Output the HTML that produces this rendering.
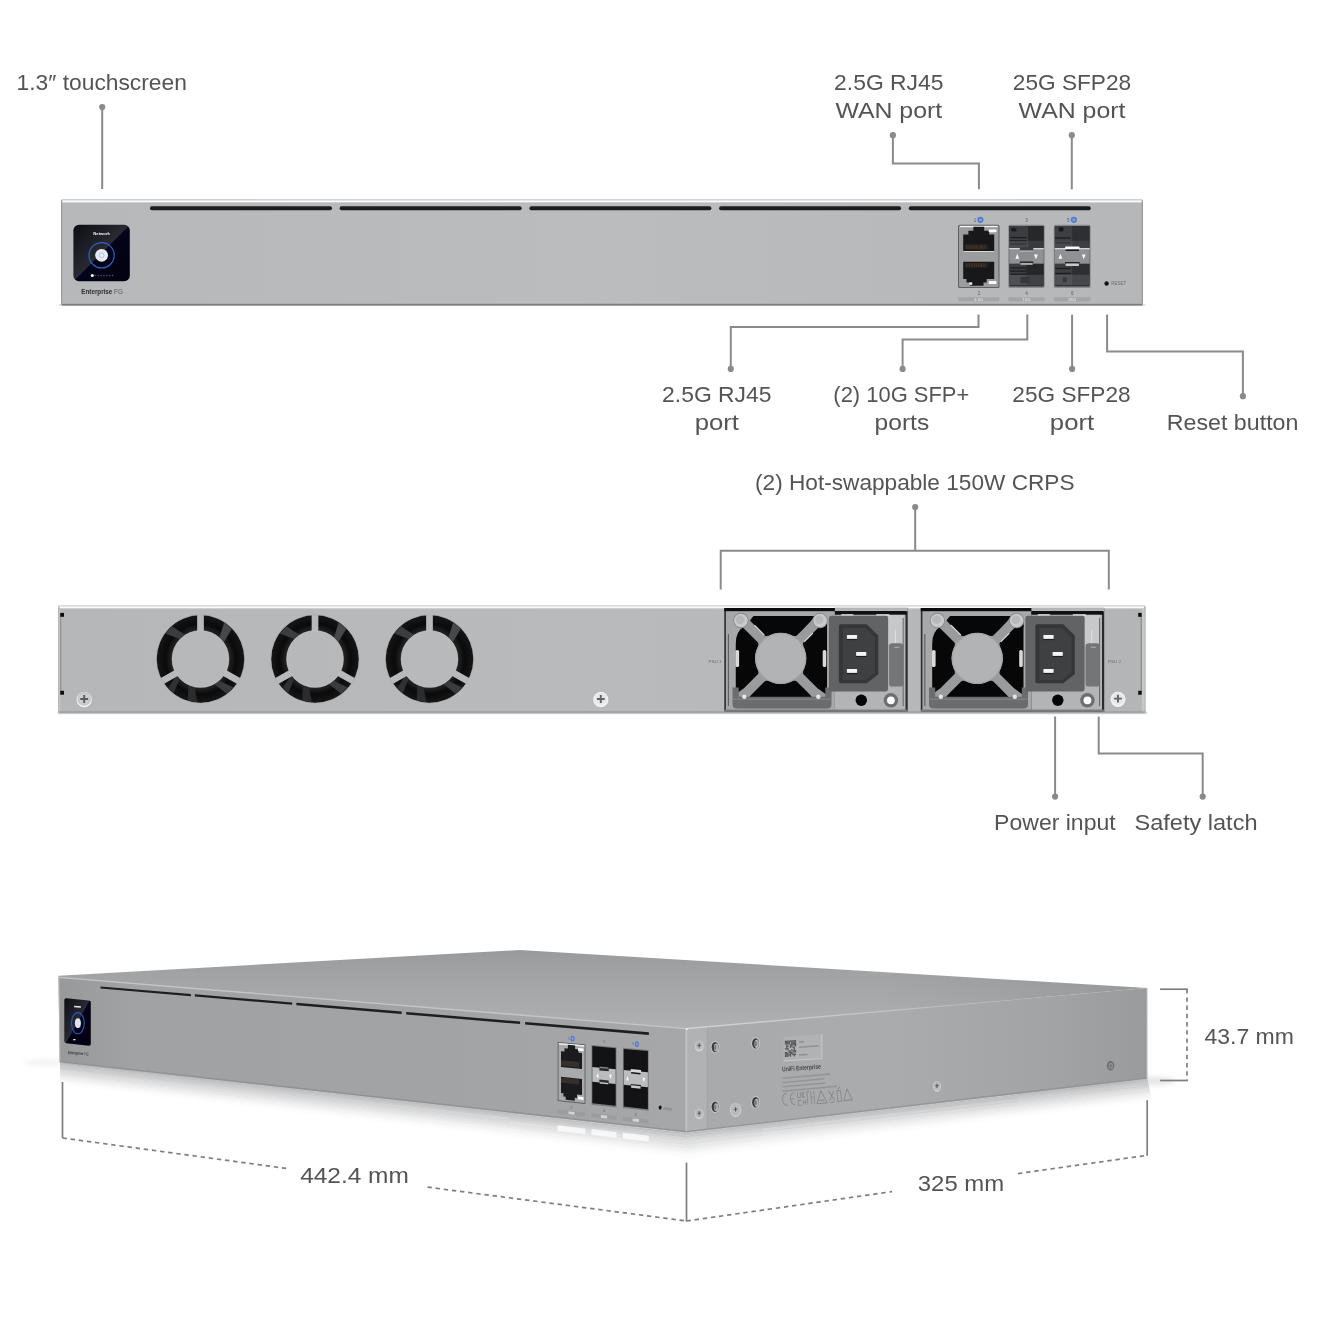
<!DOCTYPE html>
<html><head><meta charset="utf-8"><title>Enterprise FG</title>
<style>html,body{margin:0;padding:0;background:#fff;}body{width:1318px;height:1318px;overflow:hidden;font-family:"Liberation Sans",sans-serif;}svg{display:block;}</style>
</head><body>
<svg width="1318" height="1318" viewBox="0 0 1318 1318" opacity="0.999" font-family="Liberation Sans, sans-serif">
<defs>
  <linearGradient id="faceA" x1="0" y1="0" x2="1" y2="0">
    <stop offset="0" stop-color="#b7b8ba"/><stop offset="0.5" stop-color="#bbbcbe"/><stop offset="1" stop-color="#b6b7b9"/>
  </linearGradient>
  <linearGradient id="faceB" x1="0" y1="0" x2="1" y2="0">
    <stop offset="0" stop-color="#b6b7b9"/><stop offset="0.5" stop-color="#b9babc"/><stop offset="1" stop-color="#b4b5b7"/>
  </linearGradient>
  <linearGradient id="scr" x1="0" y1="0" x2="1" y2="1">
    <stop offset="0" stop-color="#0c0c14"/><stop offset="0.5" stop-color="#2a2a32"/><stop offset="0.505" stop-color="#03031a"/><stop offset="1" stop-color="#02020f"/>
  </linearGradient>
  <linearGradient id="sfp" x1="0" y1="0" x2="0" y2="1">
    <stop offset="0" stop-color="#2c2e31"/><stop offset="0.5" stop-color="#4a4c50"/><stop offset="1" stop-color="#2a2c2f"/>
  </linearGradient>
  <radialGradient id="fanG" cx="0.5" cy="0.5" r="0.5">
    <stop offset="0.62" stop-color="#2a2a2a"/><stop offset="0.8" stop-color="#0a0a0a"/><stop offset="1" stop-color="#161616"/>
  </radialGradient>
  <linearGradient id="topP" gradientUnits="userSpaceOnUse" x1="0" y1="950" x2="0" y2="1030">
    <stop offset="0" stop-color="#999a9c"/><stop offset="0.3" stop-color="#a2a3a5"/><stop offset="0.65" stop-color="#a8a9ab"/><stop offset="1" stop-color="#b0b1b3"/>
  </linearGradient>
  <linearGradient id="topP2" gradientUnits="userSpaceOnUse" x1="880" y1="0" x2="1147" y2="0">
    <stop offset="0" stop-color="#000" stop-opacity="0"/><stop offset="1" stop-color="#000" stop-opacity="0.075"/>
  </linearGradient>
  <linearGradient id="edgeCE" gradientUnits="userSpaceOnUse" x1="686" y1="0" x2="1147" y2="0">
    <stop offset="0" stop-color="#d4d5d7"/><stop offset="0.5" stop-color="#bcbdbf"/><stop offset="0.8" stop-color="#a9aaac" stop-opacity="0.3"/><stop offset="1" stop-color="#a0a1a3" stop-opacity="0"/>
  </linearGradient>
  <linearGradient id="frontP" x1="0" y1="0" x2="1" y2="0">
    <stop offset="0" stop-color="#98999b"/><stop offset="0.12" stop-color="#a1a2a4"/><stop offset="0.6" stop-color="#a2a3a5"/><stop offset="1" stop-color="#a6a7a9"/>
  </linearGradient>
  <linearGradient id="sideP" x1="0" y1="0" x2="1" y2="0">
    <stop offset="0" stop-color="#a9aaac"/><stop offset="0.45" stop-color="#aaabad"/><stop offset="0.8" stop-color="#a2a3a5"/><stop offset="1" stop-color="#9a9b9d"/>
  </linearGradient>
  <linearGradient id="refl" x1="0" y1="0" x2="0" y2="1">
    <stop offset="0" stop-color="#9c9d9f" stop-opacity="0.55"/><stop offset="1" stop-color="#ffffff" stop-opacity="0"/>
  </linearGradient>
  <filter id="b1" x="-20%" y="-20%" width="140%" height="140%"><feGaussianBlur stdDeviation="0.6"/></filter>
  <filter id="b2" x="-20%" y="-50%" width="140%" height="200%"><feGaussianBlur stdDeviation="2.5"/></filter>
</defs>

<g id="front">
<rect x="59.0" y="304.09999999999997" width="1086.5" height="2.0" fill="#e2e2e2" filter="url(#b1)"/>
<rect x="61.0" y="199.3" width="1082.0" height="106.09999999999997" rx="1.6" fill="url(#faceA)"/>
<rect x="61.8" y="199.3" width="1080.4" height="1.4" rx="0.7" fill="#d4d5d6"/>
<rect x="62.2" y="200.5" width="1079.6" height="1.7" fill="#fbfbfb"/>
<rect x="62.2" y="202.20000000000002" width="1079.6" height="0.8" fill="#d2d3d4"/>
<rect x="61.0" y="200.3" width="1.2" height="104.09999999999997" fill="#9a9b9d"/>
<rect x="1141.8" y="200.3" width="1.2" height="104.09999999999997" fill="#97989a"/>
<rect x="61.5" y="303.2" width="1081.0" height="1.0" fill="#a9aaac"/>
<rect x="61.5" y="304.0" width="1081.0" height="1.4" rx="0.7" fill="#7b7c7e"/>
<rect x="150.0" y="206.3" width="182" height="3.9" rx="1.9" fill="#1c1c1e"/>
<rect x="339.7" y="206.3" width="182" height="3.9" rx="1.9" fill="#1c1c1e"/>
<rect x="529.4" y="206.3" width="182" height="3.9" rx="1.9" fill="#1c1c1e"/>
<rect x="719.1" y="206.3" width="182" height="3.9" rx="1.9" fill="#1c1c1e"/>
<rect x="908.8" y="206.3" width="182" height="3.9" rx="1.9" fill="#1c1c1e"/>
<rect x="73.4" y="224.8" width="56.4" height="56.4" rx="5.5" fill="url(#scr)"/>
<text x="101.6" y="235.3" font-size="4.2" font-weight="bold" text-anchor="middle" fill="#f4f4f4">Network</text>
<circle cx="101.6" cy="255.3" r="12.6" fill="none" stroke="#2a63c8" stroke-width="1.2"/>
<circle cx="101.6" cy="255.3" r="6.4" fill="#e9ebf2"/>
<circle cx="101.6" cy="255.3" r="2.4" fill="none" stroke="#9db9ea" stroke-width="0.8"/>
<circle cx="92.3" cy="275.6" r="1.5" fill="#ffffff"/>
<circle cx="95.2" cy="275.6" r="0.75" fill="#5b5d6c"/>
<circle cx="98.1" cy="275.6" r="0.75" fill="#5b5d6c"/>
<circle cx="101.0" cy="275.6" r="0.75" fill="#5b5d6c"/>
<circle cx="103.9" cy="275.6" r="0.75" fill="#5b5d6c"/>
<circle cx="106.8" cy="275.6" r="0.75" fill="#5b5d6c"/>
<circle cx="109.7" cy="275.6" r="0.75" fill="#5b5d6c"/>
<circle cx="112.6" cy="275.6" r="0.75" fill="#5b5d6c"/>
<text x="81.3" y="294.4" font-size="7.1" fill="#2b2b2d" textLength="41.5" lengthAdjust="spacingAndGlyphs"><tspan font-weight="bold">Enterprise</tspan><tspan fill="#555759"> FG</tspan></text>
<rect x="958.2" y="224.8" width="41.2" height="63.3" rx="1.6" fill="#4c4d4f"/>
<rect x="959.0" y="225.60000000000002" width="39.6" height="61.699999999999996" rx="1.2" fill="#9b9c9e"/>
<rect x="959.8000000000001" y="225.9" width="38.0" height="1.3" fill="#f2f2f2"/>
<path d="M963.2,234.4 h5.2 v-3.6 h5.0 v-4.0 h10.8 v4.0 h5.0 v3.6 h5.0 V251.4 H963.2 Z" fill="#18181a"/>
<rect x="964.7" y="244.4" width="23.0" height="5" fill="#2c2522"/>
<rect x="966.40" y="245.20000000000002" width="0.9" height="4" fill="#4a362c"/>
<rect x="968.85" y="245.20000000000002" width="0.9" height="4" fill="#4a362c"/>
<rect x="971.30" y="245.20000000000002" width="0.9" height="4" fill="#4a362c"/>
<rect x="973.75" y="245.20000000000002" width="0.9" height="4" fill="#4a362c"/>
<rect x="976.20" y="245.20000000000002" width="0.9" height="4" fill="#4a362c"/>
<rect x="978.65" y="245.20000000000002" width="0.9" height="4" fill="#4a362c"/>
<rect x="981.10" y="245.20000000000002" width="0.9" height="4" fill="#4a362c"/>
<rect x="983.55" y="245.20000000000002" width="0.9" height="4" fill="#4a362c"/>
<rect x="963.2" y="251.0" width="31.0" height="1" fill="#d8d8d8"/>
<rect x="988.6" y="229.4" width="8" height="2.9" rx="1.2" fill="#fdfdfd"/>
<path d="M963.2,261.8 H994.2 V279.0 h-7.5 v3.6 h-3.2 v3.2 h-13.6 v-3.2 h-3.4 v-3.6 H963.2 Z" fill="#18181a"/>
<rect x="964.7" y="263.0" width="23.0" height="4.6" fill="#2c2522"/>
<rect x="966.40" y="263.3" width="0.9" height="3.8" fill="#4a362c"/>
<rect x="968.85" y="263.3" width="0.9" height="3.8" fill="#4a362c"/>
<rect x="971.30" y="263.3" width="0.9" height="3.8" fill="#4a362c"/>
<rect x="973.75" y="263.3" width="0.9" height="3.8" fill="#4a362c"/>
<rect x="976.20" y="263.3" width="0.9" height="3.8" fill="#4a362c"/>
<rect x="978.65" y="263.3" width="0.9" height="3.8" fill="#4a362c"/>
<rect x="981.10" y="263.3" width="0.9" height="3.8" fill="#4a362c"/>
<rect x="983.55" y="263.3" width="0.9" height="3.8" fill="#4a362c"/>
<rect x="988.6" y="281.0" width="8" height="2.9" rx="1.2" fill="#fdfdfd"/>
<rect x="969.4000000000001" y="282.40000000000003" width="2.8" height="2.4" fill="#f4f4f4"/>
<rect x="1008.3" y="224.8" width="36.4" height="63.3" rx="1.8" fill="#85868a"/>
<rect x="1009.3" y="226.0" width="34.4" height="60.699999999999996" rx="0.8" fill="url(#sfp)"/>
<rect x="1009.3" y="226.0" width="18.9" height="22" fill="#3b3d40"/>
<rect x="1028.3" y="226.0" width="15.3" height="22" fill="#26282a"/>
<rect x="1010.3" y="237.0" width="16.4" height="1.2" fill="#191a1c"/>
<rect x="1010.3" y="240.2" width="16.4" height="1.2" fill="#191a1c"/>
<rect x="1010.3" y="243.4" width="16.4" height="1.2" fill="#191a1c"/>
<rect x="1011.3" y="228.20000000000002" width="5" height="3.2" fill="#1a1b1d"/>
<rect x="1009.3" y="263.8" width="18.9" height="21" fill="#3b3d40"/>
<rect x="1026.5" y="263.8" width="17.1" height="21" fill="#242628"/>
<rect x="1010.3" y="267.3" width="16.4" height="1.2" fill="#191a1c"/>
<rect x="1010.3" y="270.5" width="16.4" height="1.2" fill="#191a1c"/>
<rect x="1010.3" y="273.7" width="16.4" height="1.2" fill="#191a1c"/>
<rect x="1020.3" y="276.8" width="9" height="6.5" fill="#17181a"/>
<rect x="1009.3" y="240.8" width="34.4" height="7.2" fill="#6a6c70" opacity="0.28"/>
<rect x="1009.3" y="274.8" width="34.4" height="10.5" fill="#7a7c80" opacity="0.32"/>
<rect x="1009.3" y="248.0" width="34.4" height="15.6" fill="#909193"/>
<rect x="1009.3" y="248.0" width="34.4" height="1.3" fill="#d5d5d6"/>
<rect x="1019.8" y="247.20000000000002" width="13.5" height="3.4" fill="#3a3b3d"/>
<rect x="1019.8" y="251.20000000000002" width="13.5" height="10" fill="#8b8c8e"/>
<rect x="1019.8" y="250.60000000000002" width="13.5" height="1.0" fill="#c4c4c5"/>
<rect x="1019.8" y="261.40000000000003" width="13.5" height="3.6" fill="#2a2b2d"/>
<rect x="1020.3" y="263.2" width="12.4" height="1.5" fill="#cfcfd0"/>
<path d="M1015.4,258.7 L1017.3,253.8 L1019.2,258.7 Z" fill="#fafafa"/>
<path d="M1034.0,254.4 L1035.9,259.3 L1037.8,254.4 Z" fill="#fafafa"/>
<rect x="1008.9" y="286.6" width="35.199999999999996" height="1.1" fill="#8c8d8f"/>
<rect x="1053.8" y="224.8" width="36.8" height="63.3" rx="1.8" fill="#85868a"/>
<rect x="1054.8" y="226.0" width="34.8" height="60.699999999999996" rx="0.8" fill="url(#sfp)"/>
<rect x="1054.8" y="226.0" width="18.4" height="22" fill="#3d3f42"/>
<rect x="1072.2" y="226.0" width="17.3" height="22" fill="#2d2f32"/>
<rect x="1058.8" y="227.20000000000002" width="4.6" height="4.2" fill="#18191b"/>
<rect x="1055.2" y="237.3" width="15.5" height="1.3" fill="#1b1c1e"/>
<rect x="1055.2" y="242.20000000000002" width="15.5" height="1.3" fill="#1b1c1e"/>
<rect x="1054.8" y="263.8" width="18.4" height="21" fill="#3d3f42"/>
<rect x="1072.2" y="263.8" width="17.3" height="21" fill="#2d2f32"/>
<rect x="1055.2" y="267.8" width="15.5" height="1.3" fill="#1b1c1e"/>
<rect x="1055.2" y="272.8" width="15.5" height="1.3" fill="#1b1c1e"/>
<rect x="1062.8" y="277.3" width="4" height="5" fill="#18191b"/>
<rect x="1054.8" y="240.8" width="34.8" height="7.2" fill="#6a6c70" opacity="0.28"/>
<rect x="1054.8" y="274.8" width="34.8" height="10.5" fill="#7a7c80" opacity="0.32"/>
<rect x="1054.8" y="248.0" width="34.8" height="15.6" fill="#909193"/>
<rect x="1054.8" y="248.0" width="34.8" height="1.3" fill="#d5d5d6"/>
<rect x="1065.0" y="246.4" width="14.6" height="3.2" rx="1" fill="#fafafa"/>
<rect x="1065.6" y="249.4" width="13.4" height="1.6" fill="#151517"/>
<rect x="1065.0" y="262.0" width="14.6" height="1.6" fill="#222325"/>
<rect x="1065.6" y="263.40000000000003" width="13.4" height="2.6" rx="0.8" fill="#c9c9ca"/>
<path d="M1058.5,258.7 L1060.4,253.8 L1062.3,258.7 Z" fill="#fafafa"/>
<path d="M1081.8,254.4 L1083.7,259.3 L1085.6,254.4 Z" fill="#fafafa"/>
<rect x="1054.3999999999999" y="286.6" width="35.599999999999994" height="1.1" fill="#8c8d8f"/>
<text x="975.0" y="221.6" font-size="4.6" text-anchor="middle" fill="#5d5f62">1</text>
<circle cx="980.4" cy="219.8" r="3.1" fill="#4f79d8"/>
<circle cx="980.4" cy="219.8" r="1.5" fill="#7fa0e6"/>
<text x="1026.5" y="221.6" font-size="4.6" text-anchor="middle" fill="#5d5f62">3</text>
<text x="1068.2" y="221.6" font-size="4.6" text-anchor="middle" fill="#5d5f62">5</text>
<circle cx="1073.9" cy="219.8" r="3.1" fill="#4f79d8"/>
<circle cx="1073.9" cy="219.8" r="1.5" fill="#7fa0e6"/>
<text x="979.0" y="294.6" font-size="4.6" text-anchor="middle" fill="#5d5f62">2</text>
<text x="1026.5" y="294.6" font-size="4.6" text-anchor="middle" fill="#5d5f62">4</text>
<text x="1072.2" y="294.6" font-size="4.6" text-anchor="middle" fill="#5d5f62">6</text>
<rect x="958.2" y="297.2" width="41.2" height="4.2" rx="1.4" fill="#a4a5a7"/>
<text x="978.8" y="300.9" font-size="4.2" font-weight="bold" text-anchor="middle" fill="#dededf">2.5G</text>
<rect x="1008.3" y="297.2" width="36.4" height="4.2" rx="1.4" fill="#a4a5a7"/>
<text x="1026.5" y="300.9" font-size="4.2" font-weight="bold" text-anchor="middle" fill="#dededf">10G</text>
<rect x="1053.8" y="297.2" width="36.8" height="4.2" rx="1.4" fill="#a4a5a7"/>
<text x="1072.2" y="300.9" font-size="4.2" font-weight="bold" text-anchor="middle" fill="#dededf">25G</text>
<circle cx="1106.6" cy="283.5" r="2.2" fill="#121214"/>
<text x="1111.2" y="285.3" font-size="4.6" fill="#6a6c6f" textLength="15" lengthAdjust="spacingAndGlyphs">RESET</text>
</g>
<g id="rear">
<rect x="57.4" y="712.0" width="1090.0" height="2.2" fill="#dcdcdc" filter="url(#b1)"/>
<rect x="58.4" y="605.4" width="1087.0" height="107.80000000000007" rx="1.2" fill="url(#faceB)"/>
<rect x="58.9" y="605.4" width="1086.0" height="1.2" fill="#d9d9da"/>
<rect x="59.199999999999996" y="606.4" width="1085.4" height="1.9" fill="#fafafa"/>
<rect x="59.199999999999996" y="608.3" width="1085.4" height="0.8" fill="#cfd0d1"/>
<rect x="58.4" y="606.4" width="1.0" height="105.80000000000007" fill="#a2a3a5"/>
<rect x="1144.4" y="606.4" width="1.0" height="105.80000000000007" fill="#a2a3a5"/>
<rect x="58.8" y="711.0" width="1086.2" height="2.2" rx="0.7" fill="#a3a4a6"/>
<rect x="59.0" y="609.0" width="1.4" height="102.20000000000007" fill="#c3c4c6"/>
<rect x="1141.8" y="609.0" width="3.0" height="102.20000000000007" fill="#c6c7c9"/>
<rect x="60.3" y="616" width="0.9" height="76" fill="#7f8082"/>
<rect x="1140.7" y="616" width="1.0" height="76" fill="#7f8082"/>
<rect x="60.2" y="612.9" width="3.8" height="3.9" fill="#0d0d0f"/>
<rect x="1138.2" y="612.9" width="3.5" height="3.9" fill="#0d0d0f"/>
<rect x="60.2" y="690.8" width="3.8" height="3.9" fill="#0d0d0f"/>
<rect x="1138.2" y="690.8" width="3.5" height="3.9" fill="#0d0d0f"/>
<path fill-rule="evenodd" fill="url(#fanG)" d="M156.6,659.0 a43.9,43.9 0 1 0 87.8,0 a43.9,43.9 0 1 0 -87.8,0 Z M171.9,659.0 a28.6,28.6 0 1 0 57.2,0 a28.6,28.6 0 1 0 -57.2,0 Z"/>
<path d="M179.7,638.9 L184.8,634.8 L172.0,626.2 L165.3,633.4 Z" fill="#3c3d3f"/>
<path d="M219.5,637.2 L223.9,642.0 L231.8,628.8 L224.2,622.5 Z" fill="#47484a"/>
<path d="M194.5,687.3 L188.3,685.2 L187.8,700.6 L197.5,702.4 Z" fill="#2b2c2e"/>
<path d="M219.5,680.8 L214.5,684.3 L226.7,693.7 L233.3,687.5 Z" fill="#3a3b3d"/>
<path d="M179.7,679.1 L176.5,675.2 L168.2,688.1 L173.7,693.3 Z" fill="#303133"/>
<rect x="197.15" y="614.10" width="6.7" height="17.30" fill="#b8b9bb" transform="rotate(0 200.5 659.0)"/>
<rect x="197.15" y="614.10" width="6.7" height="17.30" fill="#b8b9bb" transform="rotate(120 200.5 659.0)"/>
<rect x="197.15" y="614.10" width="6.7" height="17.30" fill="#b8b9bb" transform="rotate(240 200.5 659.0)"/>
<circle cx="200.5" cy="659.0" r="28.4" fill="none" stroke="#c9cacc" stroke-width="0.7" opacity="0.6"/>
<circle cx="200.5" cy="659.0" r="44.2" fill="none" stroke="#a4a5a7" stroke-width="0.7" opacity="0.7"/>
<path fill-rule="evenodd" fill="url(#fanG)" d="M271.1,659.0 a43.9,43.9 0 1 0 87.8,0 a43.9,43.9 0 1 0 -87.8,0 Z M286.4,659.0 a28.6,28.6 0 1 0 57.2,0 a28.6,28.6 0 1 0 -57.2,0 Z"/>
<path d="M294.2,638.9 L299.3,634.8 L286.5,626.2 L279.8,633.4 Z" fill="#3c3d3f"/>
<path d="M334.0,637.2 L338.4,642.0 L346.3,628.8 L338.7,622.5 Z" fill="#47484a"/>
<path d="M309.0,687.3 L302.8,685.2 L302.3,700.6 L312.0,702.4 Z" fill="#2b2c2e"/>
<path d="M334.0,680.8 L329.0,684.3 L341.2,693.7 L347.8,687.5 Z" fill="#3a3b3d"/>
<path d="M294.2,679.1 L291.0,675.2 L282.7,688.1 L288.2,693.3 Z" fill="#303133"/>
<rect x="311.65" y="614.10" width="6.7" height="17.30" fill="#b8b9bb" transform="rotate(0 315.0 659.0)"/>
<rect x="311.65" y="614.10" width="6.7" height="17.30" fill="#b8b9bb" transform="rotate(120 315.0 659.0)"/>
<rect x="311.65" y="614.10" width="6.7" height="17.30" fill="#b8b9bb" transform="rotate(240 315.0 659.0)"/>
<circle cx="315.0" cy="659.0" r="28.4" fill="none" stroke="#c9cacc" stroke-width="0.7" opacity="0.6"/>
<circle cx="315.0" cy="659.0" r="44.2" fill="none" stroke="#a4a5a7" stroke-width="0.7" opacity="0.7"/>
<path fill-rule="evenodd" fill="url(#fanG)" d="M385.6,659.0 a43.9,43.9 0 1 0 87.8,0 a43.9,43.9 0 1 0 -87.8,0 Z M400.9,659.0 a28.6,28.6 0 1 0 57.2,0 a28.6,28.6 0 1 0 -57.2,0 Z"/>
<path d="M408.7,638.9 L413.8,634.8 L401.0,626.2 L394.3,633.4 Z" fill="#3c3d3f"/>
<path d="M448.5,637.2 L452.9,642.0 L460.8,628.8 L453.2,622.5 Z" fill="#47484a"/>
<path d="M423.5,687.3 L417.3,685.2 L416.8,700.6 L426.5,702.4 Z" fill="#2b2c2e"/>
<path d="M448.5,680.8 L443.5,684.3 L455.7,693.7 L462.3,687.5 Z" fill="#3a3b3d"/>
<path d="M408.7,679.1 L405.5,675.2 L397.2,688.1 L402.7,693.3 Z" fill="#303133"/>
<rect x="426.15" y="614.10" width="6.7" height="17.30" fill="#b8b9bb" transform="rotate(0 429.5 659.0)"/>
<rect x="426.15" y="614.10" width="6.7" height="17.30" fill="#b8b9bb" transform="rotate(120 429.5 659.0)"/>
<rect x="426.15" y="614.10" width="6.7" height="17.30" fill="#b8b9bb" transform="rotate(240 429.5 659.0)"/>
<circle cx="429.5" cy="659.0" r="28.4" fill="none" stroke="#c9cacc" stroke-width="0.7" opacity="0.6"/>
<circle cx="429.5" cy="659.0" r="44.2" fill="none" stroke="#a4a5a7" stroke-width="0.7" opacity="0.7"/>
<circle cx="84.2" cy="699.7" r="7.6" fill="#f3f3f3"/>
<circle cx="84.2" cy="698.9000000000001" r="6.8" fill="#c6c7c9"/>
<circle cx="84.2" cy="698.8000000000001" r="5.199999999999999" fill="#cdced0"/>
<path d="M80.3,699.0 h7.8 M84.2,695.1 v7.8" stroke="#5a5b5d" stroke-width="1.9" fill="none"/>
<circle cx="600.8" cy="699.7" r="7.6" fill="#f3f3f3"/>
<circle cx="600.8" cy="698.9000000000001" r="6.8" fill="#ececed"/>
<circle cx="600.8" cy="698.8000000000001" r="5.199999999999999" fill="#e6e6e7"/>
<path d="M596.9,699.0 h7.8 M600.8,695.1 v7.8" stroke="#636466" stroke-width="1.9" fill="none"/>
<circle cx="1118.0" cy="699.3" r="7.6" fill="#f3f3f3"/>
<circle cx="1118.0" cy="698.5" r="6.8" fill="#ececed"/>
<circle cx="1118.0" cy="698.4" r="5.199999999999999" fill="#e6e6e7"/>
<path d="M1114.1,698.5999999999999 h7.8 M1118.0,694.6999999999999 v7.8" stroke="#636466" stroke-width="1.9" fill="none"/>
<text x="708.4" y="662.8" font-size="4.4" fill="#696b6e" textLength="13" lengthAdjust="spacingAndGlyphs">PSU 1</text>
<text x="1107.8" y="662.8" font-size="4.4" fill="#696b6e" textLength="13.4" lengthAdjust="spacingAndGlyphs">PSU 2</text>
<g transform="translate(724.3 0)">
<rect x="0" y="608.0" width="183.4" height="103.4" fill="#2a2b2d"/>
<rect x="0" y="608.0" width="111" height="3.4" fill="#0b0b0c"/>
<rect x="110.6" y="607.6" width="72.8" height="3.8" fill="#b4b5b7"/>
<rect x="1.6" y="611.2" width="109" height="99" fill="#a7a8aa"/>
<rect x="110.6" y="614.4" width="70.6" height="96" fill="#b3b4b6"/>
<rect x="163.8" y="614.6" width="15.6" height="30" fill="#c7c8ca"/>
<rect x="170.6" y="630" width="0.8" height="14" fill="#e6e6e7"/>
<rect x="110.6" y="611.0" width="71.6" height="3.6" fill="#111113"/>
<rect x="117" y="614.2" width="12" height="1.6" fill="#e2e2e3"/>
<rect x="152" y="614.2" width="13" height="1.6" fill="#e2e2e3"/>
<rect x="3.6" y="634" width="0.9" height="72" fill="#4d4e50"/>
<rect x="178.4" y="618" width="0.9" height="88" fill="#5a5b5d"/>
<clipPath id="fc724"><path d="M11.4,644 Q11.4,631 20,626.5 L29.5,616 H98.5 Q102.8,616 102.8,621 V699.6 H11.4 Z"/></clipPath>
<g clip-path="url(#fc724)">
<rect x="8" y="612" width="98" height="90" fill="#9a9b9d"/>
<polygon points="28.6,620.1 37.0,628.6 42.1,633.6 43.6,633.3 44.9,632.6 46.3,632.1 47.7,631.6 49.1,631.2 50.5,630.8 52.0,630.5 53.5,630.4 54.9,630.2 56.4,630.2 57.9,630.2 59.3,630.4 60.8,630.5 62.3,630.8 63.7,631.2 65.1,631.6 66.5,632.1 67.9,632.6 69.2,633.3 70.7,633.6 75.8,628.6 84.2,620.1 97.5,601.8 94.5,599.7 91.4,597.8 88.2,596.0 84.9,594.5 81.5,593.0 78.0,591.8 74.5,590.8 71.0,589.9 67.4,589.3 63.7,588.8 60.1,588.5 56.4,588.4 52.7,588.5 49.1,588.8 45.4,589.3 41.8,589.9 38.3,590.8 34.8,591.8 31.3,593.0 27.9,594.5 24.6,596.0 21.4,597.8 18.3,599.7 15.3,601.8" fill="#070708" stroke="#070708" stroke-width="5" stroke-linejoin="round"/>
<polygon points="94.7,630.6 86.2,639.0 81.2,644.1 81.5,645.6 82.2,646.9 82.7,648.3 83.2,649.7 83.6,651.1 84.0,652.5 84.3,654.0 84.4,655.5 84.6,656.9 84.6,658.4 84.6,659.9 84.4,661.3 84.3,662.8 84.0,664.3 83.6,665.7 83.2,667.1 82.7,668.5 82.2,669.9 81.5,671.2 81.2,672.7 86.2,677.8 94.7,686.2 113.0,699.5 115.1,696.5 117.0,693.4 118.8,690.2 120.3,686.9 121.8,683.5 123.0,680.0 124.0,676.5 124.9,673.0 125.5,669.4 126.0,665.7 126.3,662.1 126.4,658.4 126.3,654.7 126.0,651.1 125.5,647.4 124.9,643.8 124.0,640.3 123.0,636.8 121.8,633.3 120.3,629.9 118.8,626.6 117.0,623.4 115.1,620.3 113.0,617.3" fill="#070708" stroke="#070708" stroke-width="5" stroke-linejoin="round"/>
<polygon points="84.2,696.7 75.8,688.2 70.7,683.2 69.2,683.5 67.9,684.2 66.5,684.7 65.1,685.2 63.7,685.6 62.3,686.0 60.8,686.3 59.3,686.4 57.9,686.6 56.4,686.6 54.9,686.6 53.5,686.4 52.0,686.3 50.5,686.0 49.1,685.6 47.7,685.2 46.3,684.7 44.9,684.2 43.6,683.5 42.1,683.2 37.0,688.2 28.6,696.7 15.3,715.0 18.3,717.1 21.4,719.0 24.6,720.8 27.9,722.3 31.3,723.8 34.8,725.0 38.3,726.0 41.8,726.9 45.4,727.5 49.1,728.0 52.7,728.3 56.4,728.4 60.1,728.3 63.7,728.0 67.4,727.5 71.0,726.9 74.5,726.0 78.0,725.0 81.5,723.8 84.9,722.3 88.2,720.8 91.4,719.0 94.5,717.1 97.5,715.0" fill="#070708" stroke="#070708" stroke-width="5" stroke-linejoin="round"/>
<polygon points="18.1,686.2 26.6,677.8 31.6,672.7 31.3,671.2 30.6,669.9 30.1,668.5 29.6,667.1 29.2,665.7 28.8,664.3 28.5,662.8 28.4,661.3 28.2,659.9 28.2,658.4 28.2,656.9 28.4,655.5 28.5,654.0 28.8,652.5 29.2,651.1 29.6,649.7 30.1,648.3 30.6,646.9 31.3,645.6 31.6,644.1 26.6,639.0 18.1,630.6 -0.2,617.3 -2.3,620.3 -4.2,623.4 -6.0,626.6 -7.5,629.9 -9.0,633.3 -10.2,636.8 -11.2,640.3 -12.1,643.8 -12.7,647.4 -13.2,651.1 -13.5,654.7 -13.6,658.4 -13.5,662.1 -13.2,665.7 -12.7,669.4 -12.1,673.0 -11.2,676.5 -10.2,680.0 -9.0,683.5 -7.5,686.9 -6.0,690.2 -4.2,693.4 -2.3,696.5 -0.2,699.5" fill="#070708" stroke="#070708" stroke-width="5" stroke-linejoin="round"/>
<circle cx="56.4" cy="658.4" r="25.4" fill="#b2b3b5"/>
<circle cx="56.4" cy="658.4" r="24.9" fill="none" stroke="#a3a4a6" stroke-width="1"/>
<g stroke="#e4e4e5" stroke-width="1.1"><line x1="30.2" y1="625.2" x2="40.1" y2="635.1"/><line x1="88.6" y1="633.2" x2="79.9" y2="641.9"/></g>
</g>
<rect x="11.2" y="650" width="3.6" height="17" rx="1.6" fill="#d9d9da"/>
<rect x="98.4" y="650" width="3.6" height="17" rx="1.6" fill="#d9d9da"/>
<circle cx="16.6" cy="620.5" r="7.7" fill="#8a8b8d"/>
<circle cx="16.6" cy="620.5" r="6.8" fill="#c9cacb"/>
<circle cx="15.8" cy="619.7" r="4.2" fill="#b7b8ba"/>
<circle cx="95.8" cy="620.5" r="7.7" fill="#8a8b8d"/>
<circle cx="95.8" cy="620.5" r="6.8" fill="#c9cacb"/>
<circle cx="95.0" cy="619.7" r="4.2" fill="#b7b8ba"/>
<path d="M8.2,687.4 h6.2 v9.4 h86.6 v-9.4 h6.2 v16.8 q0,4.4 -4.4,4.4 h-90.2 q-4.4,0 -4.4,-4.4 Z" fill="#6b6c6e"/>
<path d="M8.6,698.4 h98.0 v1.6 h-98.0 Z" fill="#7d7e80"/>
<circle cx="20" cy="696.8" r="2.2" fill="#e6e6e7"/>
<circle cx="94" cy="696.8" r="2.2" fill="#e6e6e7"/>
<rect x="104.6" y="615.8" width="59.2" height="75.6" rx="2.4" fill="#626365"/>
<path d="M116.6,624.2 h25.8 l11.6,11.4 v38.6 l-11.6,9.0 h-25.8 q-2,0 -2,-2 v-55 q0,-2 2,-2 Z" fill="#353638"/>
<path d="M118.6,628 h22.6 l9.6,9.6 v34.8 l-9.6,7.6 h-22.6 Z" fill="#3f4042"/>
<rect x="122.6" y="635.0" width="10.2" height="3.9" rx="0.6" fill="#f4f4f4"/>
<rect x="122.6" y="638.9" width="10.2" height="1.2" fill="#1e1e20"/>
<rect x="131.8" y="652.0" width="10.2" height="3.9" rx="0.6" fill="#f4f4f4"/>
<rect x="131.8" y="655.9" width="10.2" height="1.2" fill="#1e1e20"/>
<rect x="122.6" y="669.0" width="10.2" height="3.9" rx="0.6" fill="#f4f4f4"/>
<rect x="122.6" y="672.9" width="10.2" height="1.2" fill="#1e1e20"/>
<rect x="164.8" y="643.2" width="14.2" height="43.4" rx="3.2" fill="#747577"/>
<rect x="170" y="646.6" width="5" height="1.4" fill="#a0a1a3"/>
<circle cx="137.0" cy="700.3" r="5.7" fill="#050506"/>
<circle cx="166.6" cy="700.3" r="7.2" fill="#6d6e70"/>
<circle cx="166.6" cy="700.3" r="3.9" fill="#ffffff"/>
<rect x="0" y="709.6" width="183.4" height="2.0" fill="#77787a"/>
</g>
<g transform="translate(920.8 0)">
<rect x="0" y="608.0" width="183.4" height="103.4" fill="#2a2b2d"/>
<rect x="0" y="608.0" width="111" height="3.4" fill="#0b0b0c"/>
<rect x="110.6" y="607.6" width="72.8" height="3.8" fill="#b4b5b7"/>
<rect x="1.6" y="611.2" width="109" height="99" fill="#a7a8aa"/>
<rect x="110.6" y="614.4" width="70.6" height="96" fill="#b3b4b6"/>
<rect x="163.8" y="614.6" width="15.6" height="30" fill="#c7c8ca"/>
<rect x="170.6" y="630" width="0.8" height="14" fill="#e6e6e7"/>
<rect x="110.6" y="611.0" width="71.6" height="3.6" fill="#111113"/>
<rect x="117" y="614.2" width="12" height="1.6" fill="#e2e2e3"/>
<rect x="152" y="614.2" width="13" height="1.6" fill="#e2e2e3"/>
<rect x="3.6" y="634" width="0.9" height="72" fill="#4d4e50"/>
<rect x="178.4" y="618" width="0.9" height="88" fill="#5a5b5d"/>
<clipPath id="fc920"><path d="M11.4,644 Q11.4,631 20,626.5 L29.5,616 H98.5 Q102.8,616 102.8,621 V699.6 H11.4 Z"/></clipPath>
<g clip-path="url(#fc920)">
<rect x="8" y="612" width="98" height="90" fill="#9a9b9d"/>
<polygon points="28.6,620.1 37.0,628.6 42.1,633.6 43.6,633.3 44.9,632.6 46.3,632.1 47.7,631.6 49.1,631.2 50.5,630.8 52.0,630.5 53.5,630.4 54.9,630.2 56.4,630.2 57.9,630.2 59.3,630.4 60.8,630.5 62.3,630.8 63.7,631.2 65.1,631.6 66.5,632.1 67.9,632.6 69.2,633.3 70.7,633.6 75.8,628.6 84.2,620.1 97.5,601.8 94.5,599.7 91.4,597.8 88.2,596.0 84.9,594.5 81.5,593.0 78.0,591.8 74.5,590.8 71.0,589.9 67.4,589.3 63.7,588.8 60.1,588.5 56.4,588.4 52.7,588.5 49.1,588.8 45.4,589.3 41.8,589.9 38.3,590.8 34.8,591.8 31.3,593.0 27.9,594.5 24.6,596.0 21.4,597.8 18.3,599.7 15.3,601.8" fill="#070708" stroke="#070708" stroke-width="5" stroke-linejoin="round"/>
<polygon points="94.7,630.6 86.2,639.0 81.2,644.1 81.5,645.6 82.2,646.9 82.7,648.3 83.2,649.7 83.6,651.1 84.0,652.5 84.3,654.0 84.4,655.5 84.6,656.9 84.6,658.4 84.6,659.9 84.4,661.3 84.3,662.8 84.0,664.3 83.6,665.7 83.2,667.1 82.7,668.5 82.2,669.9 81.5,671.2 81.2,672.7 86.2,677.8 94.7,686.2 113.0,699.5 115.1,696.5 117.0,693.4 118.8,690.2 120.3,686.9 121.8,683.5 123.0,680.0 124.0,676.5 124.9,673.0 125.5,669.4 126.0,665.7 126.3,662.1 126.4,658.4 126.3,654.7 126.0,651.1 125.5,647.4 124.9,643.8 124.0,640.3 123.0,636.8 121.8,633.3 120.3,629.9 118.8,626.6 117.0,623.4 115.1,620.3 113.0,617.3" fill="#070708" stroke="#070708" stroke-width="5" stroke-linejoin="round"/>
<polygon points="84.2,696.7 75.8,688.2 70.7,683.2 69.2,683.5 67.9,684.2 66.5,684.7 65.1,685.2 63.7,685.6 62.3,686.0 60.8,686.3 59.3,686.4 57.9,686.6 56.4,686.6 54.9,686.6 53.5,686.4 52.0,686.3 50.5,686.0 49.1,685.6 47.7,685.2 46.3,684.7 44.9,684.2 43.6,683.5 42.1,683.2 37.0,688.2 28.6,696.7 15.3,715.0 18.3,717.1 21.4,719.0 24.6,720.8 27.9,722.3 31.3,723.8 34.8,725.0 38.3,726.0 41.8,726.9 45.4,727.5 49.1,728.0 52.7,728.3 56.4,728.4 60.1,728.3 63.7,728.0 67.4,727.5 71.0,726.9 74.5,726.0 78.0,725.0 81.5,723.8 84.9,722.3 88.2,720.8 91.4,719.0 94.5,717.1 97.5,715.0" fill="#070708" stroke="#070708" stroke-width="5" stroke-linejoin="round"/>
<polygon points="18.1,686.2 26.6,677.8 31.6,672.7 31.3,671.2 30.6,669.9 30.1,668.5 29.6,667.1 29.2,665.7 28.8,664.3 28.5,662.8 28.4,661.3 28.2,659.9 28.2,658.4 28.2,656.9 28.4,655.5 28.5,654.0 28.8,652.5 29.2,651.1 29.6,649.7 30.1,648.3 30.6,646.9 31.3,645.6 31.6,644.1 26.6,639.0 18.1,630.6 -0.2,617.3 -2.3,620.3 -4.2,623.4 -6.0,626.6 -7.5,629.9 -9.0,633.3 -10.2,636.8 -11.2,640.3 -12.1,643.8 -12.7,647.4 -13.2,651.1 -13.5,654.7 -13.6,658.4 -13.5,662.1 -13.2,665.7 -12.7,669.4 -12.1,673.0 -11.2,676.5 -10.2,680.0 -9.0,683.5 -7.5,686.9 -6.0,690.2 -4.2,693.4 -2.3,696.5 -0.2,699.5" fill="#070708" stroke="#070708" stroke-width="5" stroke-linejoin="round"/>
<circle cx="56.4" cy="658.4" r="25.4" fill="#b2b3b5"/>
<circle cx="56.4" cy="658.4" r="24.9" fill="none" stroke="#a3a4a6" stroke-width="1"/>
<g stroke="#e4e4e5" stroke-width="1.1"><line x1="30.2" y1="625.2" x2="40.1" y2="635.1"/><line x1="88.6" y1="633.2" x2="79.9" y2="641.9"/></g>
</g>
<rect x="11.2" y="650" width="3.6" height="17" rx="1.6" fill="#d9d9da"/>
<rect x="98.4" y="650" width="3.6" height="17" rx="1.6" fill="#d9d9da"/>
<circle cx="16.6" cy="620.5" r="7.7" fill="#8a8b8d"/>
<circle cx="16.6" cy="620.5" r="6.8" fill="#c9cacb"/>
<circle cx="15.8" cy="619.7" r="4.2" fill="#b7b8ba"/>
<circle cx="95.8" cy="620.5" r="7.7" fill="#8a8b8d"/>
<circle cx="95.8" cy="620.5" r="6.8" fill="#c9cacb"/>
<circle cx="95.0" cy="619.7" r="4.2" fill="#b7b8ba"/>
<path d="M8.2,687.4 h6.2 v9.4 h86.6 v-9.4 h6.2 v16.8 q0,4.4 -4.4,4.4 h-90.2 q-4.4,0 -4.4,-4.4 Z" fill="#6b6c6e"/>
<path d="M8.6,698.4 h98.0 v1.6 h-98.0 Z" fill="#7d7e80"/>
<circle cx="20" cy="696.8" r="2.2" fill="#e6e6e7"/>
<circle cx="94" cy="696.8" r="2.2" fill="#e6e6e7"/>
<rect x="104.6" y="615.8" width="59.2" height="75.6" rx="2.4" fill="#626365"/>
<path d="M116.6,624.2 h25.8 l11.6,11.4 v38.6 l-11.6,9.0 h-25.8 q-2,0 -2,-2 v-55 q0,-2 2,-2 Z" fill="#353638"/>
<path d="M118.6,628 h22.6 l9.6,9.6 v34.8 l-9.6,7.6 h-22.6 Z" fill="#3f4042"/>
<rect x="122.6" y="635.0" width="10.2" height="3.9" rx="0.6" fill="#f4f4f4"/>
<rect x="122.6" y="638.9" width="10.2" height="1.2" fill="#1e1e20"/>
<rect x="131.8" y="652.0" width="10.2" height="3.9" rx="0.6" fill="#f4f4f4"/>
<rect x="131.8" y="655.9" width="10.2" height="1.2" fill="#1e1e20"/>
<rect x="122.6" y="669.0" width="10.2" height="3.9" rx="0.6" fill="#f4f4f4"/>
<rect x="122.6" y="672.9" width="10.2" height="1.2" fill="#1e1e20"/>
<rect x="164.8" y="643.2" width="14.2" height="43.4" rx="3.2" fill="#747577"/>
<rect x="170" y="646.6" width="5" height="1.4" fill="#a0a1a3"/>
<circle cx="137.0" cy="700.3" r="5.7" fill="#050506"/>
<circle cx="166.6" cy="700.3" r="7.2" fill="#6d6e70"/>
<circle cx="166.6" cy="700.3" r="3.9" fill="#ffffff"/>
<rect x="0" y="709.6" width="183.4" height="2.0" fill="#77787a"/>
</g>
</g>
<g id="persp">
<g filter="url(#b1)">
<line x1="60.1" y1="1062.2" x2="686.3" y2="1132.3" stroke="#a2a3a5" stroke-width="1.4" opacity="0.712"/>
<line x1="686.3" y1="1132.3" x2="1147.2" y2="1078.6" stroke="#a2a3a5" stroke-width="1.4" opacity="0.712"/>
<line x1="60.1" y1="1063.3" x2="686.3" y2="1133.6" stroke="#a2a3a5" stroke-width="1.4" opacity="0.661"/>
<line x1="686.3" y1="1133.6" x2="1147.5" y2="1079.7" stroke="#a2a3a5" stroke-width="1.4" opacity="0.661"/>
<line x1="60.1" y1="1064.4" x2="686.3" y2="1134.8" stroke="#a2a3a5" stroke-width="1.4" opacity="0.612"/>
<line x1="686.3" y1="1134.8" x2="1147.7" y2="1080.8" stroke="#a2a3a5" stroke-width="1.4" opacity="0.612"/>
<line x1="60.1" y1="1065.5" x2="686.3" y2="1136.1" stroke="#a2a3a5" stroke-width="1.4" opacity="0.564"/>
<line x1="686.3" y1="1136.1" x2="1148.0" y2="1081.9" stroke="#a2a3a5" stroke-width="1.4" opacity="0.564"/>
<line x1="60.1" y1="1066.6" x2="686.3" y2="1137.3" stroke="#a2a3a5" stroke-width="1.4" opacity="0.517"/>
<line x1="686.3" y1="1137.3" x2="1148.2" y2="1083.0" stroke="#a2a3a5" stroke-width="1.4" opacity="0.517"/>
<line x1="60.1" y1="1067.7" x2="686.3" y2="1138.6" stroke="#a2a3a5" stroke-width="1.4" opacity="0.471"/>
<line x1="686.3" y1="1138.6" x2="1148.5" y2="1084.1" stroke="#a2a3a5" stroke-width="1.4" opacity="0.471"/>
<line x1="60.1" y1="1068.8" x2="686.3" y2="1139.9" stroke="#a2a3a5" stroke-width="1.4" opacity="0.427"/>
<line x1="686.3" y1="1139.9" x2="1148.7" y2="1085.2" stroke="#a2a3a5" stroke-width="1.4" opacity="0.427"/>
<line x1="60.1" y1="1069.9" x2="686.3" y2="1141.1" stroke="#a2a3a5" stroke-width="1.4" opacity="0.385"/>
<line x1="686.3" y1="1141.1" x2="1149.0" y2="1086.3" stroke="#a2a3a5" stroke-width="1.4" opacity="0.385"/>
<line x1="60.1" y1="1071.0" x2="686.3" y2="1142.4" stroke="#a2a3a5" stroke-width="1.4" opacity="0.344"/>
<line x1="686.3" y1="1142.4" x2="1149.2" y2="1087.4" stroke="#a2a3a5" stroke-width="1.4" opacity="0.344"/>
<line x1="60.1" y1="1072.1" x2="686.3" y2="1143.7" stroke="#a2a3a5" stroke-width="1.4" opacity="0.304"/>
<line x1="686.3" y1="1143.7" x2="1149.5" y2="1088.5" stroke="#a2a3a5" stroke-width="1.4" opacity="0.304"/>
<line x1="60.1" y1="1073.2" x2="686.3" y2="1144.9" stroke="#a2a3a5" stroke-width="1.4" opacity="0.267"/>
<line x1="686.3" y1="1144.9" x2="1149.7" y2="1089.6" stroke="#a2a3a5" stroke-width="1.4" opacity="0.267"/>
<line x1="60.1" y1="1074.3" x2="686.3" y2="1146.2" stroke="#a2a3a5" stroke-width="1.4" opacity="0.231"/>
<line x1="686.3" y1="1146.2" x2="1150.0" y2="1090.7" stroke="#a2a3a5" stroke-width="1.4" opacity="0.231"/>
<line x1="60.1" y1="1075.4" x2="686.3" y2="1147.5" stroke="#a2a3a5" stroke-width="1.4" opacity="0.196"/>
<line x1="686.3" y1="1147.5" x2="1150.2" y2="1091.8" stroke="#a2a3a5" stroke-width="1.4" opacity="0.196"/>
<line x1="60.1" y1="1076.5" x2="686.3" y2="1148.7" stroke="#a2a3a5" stroke-width="1.4" opacity="0.164"/>
<line x1="686.3" y1="1148.7" x2="1150.5" y2="1092.9" stroke="#a2a3a5" stroke-width="1.4" opacity="0.164"/>
<line x1="60.1" y1="1077.6" x2="686.3" y2="1150.0" stroke="#a2a3a5" stroke-width="1.4" opacity="0.133"/>
<line x1="686.3" y1="1150.0" x2="1150.7" y2="1094.0" stroke="#a2a3a5" stroke-width="1.4" opacity="0.133"/>
<line x1="60.1" y1="1078.7" x2="686.3" y2="1151.3" stroke="#a2a3a5" stroke-width="1.4" opacity="0.105"/>
<line x1="686.3" y1="1151.3" x2="1151.0" y2="1095.1" stroke="#a2a3a5" stroke-width="1.4" opacity="0.105"/>
<line x1="60.1" y1="1079.8" x2="686.3" y2="1152.5" stroke="#a2a3a5" stroke-width="1.4" opacity="0.079"/>
<line x1="686.3" y1="1152.5" x2="1151.2" y2="1096.2" stroke="#a2a3a5" stroke-width="1.4" opacity="0.079"/>
<line x1="60.1" y1="1080.9" x2="686.3" y2="1153.8" stroke="#a2a3a5" stroke-width="1.4" opacity="0.056"/>
<line x1="686.3" y1="1153.8" x2="1151.5" y2="1097.3" stroke="#a2a3a5" stroke-width="1.4" opacity="0.056"/>
<line x1="60.1" y1="1082.0" x2="686.3" y2="1155.1" stroke="#a2a3a5" stroke-width="1.4" opacity="0.035"/>
<line x1="686.3" y1="1155.1" x2="1151.7" y2="1098.4" stroke="#a2a3a5" stroke-width="1.4" opacity="0.035"/>
<line x1="60.1" y1="1083.1" x2="686.3" y2="1156.3" stroke="#a2a3a5" stroke-width="1.4" opacity="0.018"/>
<line x1="686.3" y1="1156.3" x2="1152.0" y2="1099.5" stroke="#a2a3a5" stroke-width="1.4" opacity="0.018"/>
<line x1="60.1" y1="1084.2" x2="686.3" y2="1157.6" stroke="#a2a3a5" stroke-width="1.4" opacity="0.006"/>
<line x1="686.3" y1="1157.6" x2="1152.2" y2="1100.6" stroke="#a2a3a5" stroke-width="1.4" opacity="0.006"/>
</g>
<ellipse cx="45.6" cy="1062.6" rx="22" ry="3.5" fill="#c9c9c9" opacity="0.22" filter="url(#b2)"/>
<ellipse cx="1153.2" cy="1081.0" rx="22" ry="4" fill="#c9c9c9" opacity="0.5" filter="url(#b2)"/>
<polygon points="58.5,975.8 519.6,950.0 1147.2,988.0 686.3,1028.6 58.5,977.4" fill="url(#topP)"/>
<polygon points="519.6,950.0 1147.2,988.0 686.3,1028.6" fill="url(#topP2)"/>
<polygon points="58.5,977.4 686.3,1028.6 686.3,1131.6 59.6,1061.6" fill="url(#frontP)"/>
<polygon points="686.3,1028.6 1147.2,988.0 1147.2,1078.0 686.3,1131.6" fill="url(#sideP)"/>
<polygon points="686.3,1028.6 707.3,1026.8 707.3,1128.8 686.3,1131.6" fill="#b1b2b4"/>
<line x1="707.3" y1="1026.8" x2="707.3" y2="1129.2" stroke="#a0a1a3" stroke-width="0.8"/>
<line x1="58.5" y1="977.4" x2="686.3" y2="1028.6" stroke="#c4c5c7" stroke-width="1.4"/>
<line x1="686.3" y1="1028.6" x2="1147.2" y2="988.0" stroke="url(#edgeCE)" stroke-width="1.4"/>
<line x1="686.3" y1="1029.1" x2="686.3" y2="1131.6" stroke="#c2c3c5" stroke-width="1.6"/>
<line x1="59.0" y1="977.4" x2="60.1" y2="1061.6" stroke="#b4b5b7" stroke-width="1.0"/>
<line x1="59.6" y1="1061.6" x2="686.3" y2="1131.6" stroke="#8f9092" stroke-width="1.4"/>
<line x1="686.3" y1="1131.6" x2="1147.2" y2="1078.0" stroke="#939496" stroke-width="1.3"/>
<line x1="1146.8" y1="988.0" x2="1146.8" y2="1078.0" stroke="#b3b4b6" stroke-width="1.0"/>
<circle cx="686.6999999999999" cy="1029.1999999999998" r="1.1" fill="#f0f0f0"/>
<polygon points="100.5,986.5 190.9,994.0 190.9,996.3 100.5,988.6" fill="#1e1e20"/>
<polygon points="194.8,994.3 292.2,1002.5 292.2,1004.8 194.8,996.6" fill="#1e1e20"/>
<polygon points="296.4,1002.8 401.6,1011.6 401.6,1014.0 296.4,1005.2" fill="#1e1e20"/>
<polygon points="406.2,1012.0 520.1,1021.5 520.1,1024.0 406.2,1014.4" fill="#1e1e20"/>
<polygon points="525.1,1021.9 648.9,1032.3 648.9,1034.9 525.1,1024.4" fill="#1e1e20"/>
<path d="M66.3,998.3 L88.8,1000.4 Q90.8,1000.5 90.8,1002.5 L90.8,1043.8 Q90.8,1045.8 88.8,1045.7 L66.3,1043.2 Q64.3,1043.0 64.3,1041.0 L64.3,1000.1 Q64.3,998.1 66.3,998.3 Z" fill="url(#scr)"/>
<ellipse cx="77.9" cy="1023.2" rx="6.4" ry="10.6" fill="none" stroke="#2459bd" stroke-width="1.1"/>
<ellipse cx="77.9" cy="1023.2" rx="3.0" ry="4.9" fill="#dfe3ee"/>
<rect x="74.1" y="1006.1" width="6.8" height="1.4" fill="#e8e8ee" transform="rotate(4.6 77.5 1006.7)"/>
<rect x="73.2" y="1039.0" width="2.4" height="1.3" fill="#dcdce4"/>
<text x="68.0" y="1053.9" font-size="4.4" fill="#333335" textLength="20.6" lengthAdjust="spacingAndGlyphs" transform="rotate(4.8 68.0 1053.9)"><tspan font-weight="bold">Enterprise</tspan> FG</text>
<polygon points="557.7,1041.9 585.4,1044.4 585.4,1104.1 557.7,1101.1" fill="#55565a"/>
<polygon points="558.5,1042.9 584.6,1045.3 584.6,1103.0 558.5,1100.2" fill="#a9aaac"/>
<polygon points="558.8,1043.0 584.4,1045.2 584.4,1046.8 558.8,1044.5" fill="#f0f0f0"/>
<polygon points="561.0,1051.2 564.5,1051.5 564.5,1048.2 567.9,1048.5 567.9,1044.7 575.1,1045.4 575.1,1049.1 578.5,1049.4 578.5,1052.8 582.0,1053.1 582.0,1069.1 561.0,1067.1" fill="#1b1b1d"/>
<polygon points="561.0,1076.8 582.0,1078.9 582.0,1095.1 577.0,1094.6 577.0,1098.0 574.8,1097.8 574.8,1100.8 565.7,1099.8 565.7,1096.8 563.4,1096.6 563.4,1093.2 561.0,1092.9" fill="#1b1b1d"/>
<polygon points="578.1,1048.1 583.5,1048.6 583.5,1051.3 578.1,1050.8" fill="#fdfdfd"/>
<polygon points="578.1,1096.6 583.5,1097.2 583.5,1099.9 578.1,1099.3" fill="#fdfdfd"/>
<polygon points="561.0,1060.2 579.1,1061.9 579.1,1067.5 561.0,1065.8" fill="#35302e"/>
<polygon points="561.0,1077.6 579.1,1079.4 579.1,1084.5 561.0,1082.6" fill="#35302e"/>
<polygon points="591.5,1044.9 616.5,1047.2 616.5,1107.4 591.5,1104.7" fill="#7a7b7d"/>
<polygon points="592.3,1046.1 615.7,1048.2 615.7,1105.8 592.3,1103.3" fill="#131315"/>
<polygon points="592.3,1066.9 615.7,1069.2 615.7,1084.0 592.3,1081.7" fill="#bbbcbe"/>
<polygon points="599.4,1066.3 608.7,1067.1 608.7,1071.3 599.4,1070.4" fill="#2b2c2e"/>
<polygon points="599.4,1079.5 608.7,1080.4 608.7,1084.6 599.4,1083.7" fill="#2b2c2e"/>
<polygon points="599.7,1082.0 608.2,1082.9 608.2,1084.3 599.7,1083.4" fill="#d0d0d1"/>
<polygon points="599.7,1066.7 608.2,1067.5 608.2,1068.8 599.7,1068.0" fill="#888"/>
<polygon points="596.4,1077.3 597.7,1072.9 598.9,1077.6" fill="#fbfbfb"/>
<polygon points="609.2,1074.6 610.5,1079.3 611.7,1074.8" fill="#fbfbfb"/>
<polygon points="622.9,1047.7 648.7,1050.0 648.7,1110.8 622.9,1108.0" fill="#7a7b7d"/>
<polygon points="623.7,1048.9 647.9,1051.1 647.9,1109.2 623.7,1106.6" fill="#131315"/>
<polygon points="623.7,1069.9 647.9,1072.2 647.9,1087.2 623.7,1084.8" fill="#bbbcbe"/>
<polygon points="630.7,1069.1 641.0,1070.0 641.0,1073.1 630.7,1072.1" fill="#d8d8d9"/>
<polygon points="631.1,1072.0 640.5,1072.9 640.5,1074.4 631.1,1073.5" fill="#151517"/>
<polygon points="630.7,1083.9 641.0,1085.0 641.0,1086.5 630.7,1085.5" fill="#222325"/>
<polygon points="631.1,1085.3 640.5,1086.3 640.5,1088.8 631.1,1087.8" fill="#c9c9ca"/>
<polygon points="626.2,1080.3 627.5,1075.8 628.7,1080.5" fill="#fbfbfb"/>
<polygon points="642.6,1077.8 643.8,1082.6 645.1,1078.1" fill="#fbfbfb"/>
<text x="568.9" y="1039.8" font-size="3.6" text-anchor="middle" fill="#606265">1</text>
<ellipse cx="572.6" cy="1038.6" rx="2.0" ry="2.9" fill="#4f79d8"/>
<ellipse cx="572.6" cy="1038.6" rx="0.9" ry="1.4" fill="#86a4e8"/>
<text x="604.0" y="1042.8" font-size="3.6" text-anchor="middle" fill="#606265">3</text>
<text x="632.9" y="1045.4" font-size="3.6" text-anchor="middle" fill="#606265">5</text>
<ellipse cx="636.9" cy="1044.2" rx="2.0" ry="2.9" fill="#4f79d8"/>
<ellipse cx="636.9" cy="1044.2" rx="0.9" ry="1.4" fill="#86a4e8"/>
<text x="571.6" y="1108.7" font-size="3.6" text-anchor="middle" fill="#606265">2</text>
<text x="604.0" y="1112.2" font-size="3.6" text-anchor="middle" fill="#606265">4</text>
<text x="635.7" y="1115.6" font-size="3.6" text-anchor="middle" fill="#606265">6</text>
<polygon points="557.7,1109.6 585.4,1112.6 585.4,1116.6 557.7,1113.5" fill="#9b9c9e"/>
<polygon points="568.5,1111.4 574.5,1112.1 574.5,1114.8 568.5,1114.1" fill="#d4d4d5"/>
<polygon points="591.5,1113.3 616.5,1116.0 616.5,1120.0 591.5,1117.3" fill="#9b9c9e"/>
<polygon points="600.9,1115.0 607.1,1115.7 607.1,1118.4 600.9,1117.7" fill="#d4d4d5"/>
<polygon points="622.9,1116.7 648.7,1119.5 648.7,1123.6 622.9,1120.7" fill="#9b9c9e"/>
<polygon points="632.6,1118.4 638.9,1119.1 638.9,1121.9 632.6,1121.2" fill="#d4d4d5"/>
<ellipse cx="660.1" cy="1107.6" rx="1.5" ry="2.1" fill="#121214"/>
<text x="663.4" y="1109.7" font-size="3.5" fill="#66686b" textLength="9.2" lengthAdjust="spacingAndGlyphs" transform="rotate(5.6 663.4 1109.7)">RESET</text>
<polygon points="557.7,1125.3 585.4,1128.5 585.4,1134.1 557.7,1130.9" fill="#ffffff" opacity="0.75" filter="url(#b1)"/>
<polygon points="591.5,1129.1 616.5,1132.0 616.5,1137.7 591.5,1134.8" fill="#ffffff" opacity="0.75" filter="url(#b1)"/>
<polygon points="622.9,1132.7 648.7,1135.7 648.7,1141.4 622.9,1138.4" fill="#ffffff" opacity="0.75" filter="url(#b1)"/>
<ellipse cx="699.2" cy="1045.9" rx="4.4" ry="5.4" fill="#dcdcdd"/>
<ellipse cx="699.2" cy="1045.4" rx="3.9" ry="4.9" fill="#b9babc"/>
<path d="M697.4000000000001,1045.5500000000002 L701.0,1045.25 M699.2,1043.2 v4.4" stroke="#4b4c4e" stroke-width="0.9" fill="none"/>
<ellipse cx="699.2" cy="1113.7" rx="4.4" ry="5.4" fill="#dcdcdd"/>
<ellipse cx="699.2" cy="1113.2" rx="3.9" ry="4.9" fill="#b9babc"/>
<path d="M697.4000000000001,1113.3500000000001 L701.0,1113.05 M699.2,1111.0 v4.4" stroke="#4b4c4e" stroke-width="0.9" fill="none"/>
<ellipse cx="715.1" cy="1047.1" rx="4.5" ry="6.2" fill="#c6c7c9"/>
<ellipse cx="715.1" cy="1047.1" rx="3.5" ry="5.2" fill="#3a3b3d"/>
<ellipse cx="716.1" cy="1047.6" rx="2.2" ry="4.1" fill="#b4b5b7"/>
<ellipse cx="715.3000000000001" cy="1047.3999999999999" rx="1.1" ry="2.6" fill="#7a7b7d"/>
<ellipse cx="755.6" cy="1043.4" rx="4.5" ry="6.2" fill="#c6c7c9"/>
<ellipse cx="755.6" cy="1043.4" rx="3.5" ry="5.2" fill="#3a3b3d"/>
<ellipse cx="756.6" cy="1043.9" rx="2.2" ry="4.1" fill="#b4b5b7"/>
<ellipse cx="755.8000000000001" cy="1043.7" rx="1.1" ry="2.6" fill="#7a7b7d"/>
<ellipse cx="715.1" cy="1106.8" rx="4.5" ry="6.2" fill="#c6c7c9"/>
<ellipse cx="715.1" cy="1106.8" rx="3.5" ry="5.2" fill="#3a3b3d"/>
<ellipse cx="716.1" cy="1107.3" rx="2.2" ry="4.1" fill="#b4b5b7"/>
<ellipse cx="715.3000000000001" cy="1107.1" rx="1.1" ry="2.6" fill="#7a7b7d"/>
<ellipse cx="755.6" cy="1102.3" rx="4.5" ry="6.2" fill="#c6c7c9"/>
<ellipse cx="755.6" cy="1102.3" rx="3.5" ry="5.2" fill="#3a3b3d"/>
<ellipse cx="756.6" cy="1102.8" rx="2.2" ry="4.1" fill="#b4b5b7"/>
<ellipse cx="755.8000000000001" cy="1102.6" rx="1.1" ry="2.6" fill="#7a7b7d"/>
<ellipse cx="735.6" cy="1109.8" rx="5.7" ry="7.1" fill="#dcdcdd"/>
<ellipse cx="735.6" cy="1109.3" rx="5.2" ry="6.6" fill="#b9babc"/>
<path d="M733.8000000000001,1109.45 L737.4,1109.1499999999999 M735.6,1107.1 v4.4" stroke="#4b4c4e" stroke-width="0.9" fill="none"/>
<ellipse cx="937.0" cy="1086.3" rx="4.0" ry="5.4" fill="#dcdcdd"/>
<ellipse cx="937.0" cy="1085.8" rx="3.5" ry="4.9" fill="#b9babc"/>
<path d="M935.2,1085.95 L938.8,1085.6499999999999 M937.0,1083.6 v4.4" stroke="#4b4c4e" stroke-width="0.9" fill="none"/>
<ellipse cx="1110.6" cy="1065.7" rx="3.7" ry="4.7" fill="#6b6c6e"/>
<ellipse cx="1110.9" cy="1065.9" rx="2.4" ry="3.3" fill="#8c8d8f"/>
<path d="M1109.6,1065.9 h2.6 M1110.9,1064.2 v3.4" stroke="#6b6c6e" stroke-width="0.7"/>
<polygon points="783.5,1036.9 821.9,1034.2 821.9,1058.6 783.5,1061.0" fill="#b1b2b4"/>
<polyline points="783.5,1061.0 821.9,1058.6 821.9,1034.2" fill="none" stroke="#dadadb" stroke-width="0.6"/>
<rect x="784.90" y="1040.80" width="1.29" height="1.29" fill="#505154"/>
<rect x="786.14" y="1040.71" width="1.29" height="1.29" fill="#505154"/>
<rect x="787.38" y="1040.63" width="1.29" height="1.29" fill="#505154"/>
<rect x="788.62" y="1040.54" width="1.29" height="1.29" fill="#505154"/>
<rect x="789.86" y="1040.45" width="1.29" height="1.29" fill="#505154"/>
<rect x="791.10" y="1040.37" width="1.29" height="1.29" fill="#505154"/>
<rect x="792.34" y="1040.28" width="1.29" height="1.29" fill="#505154"/>
<rect x="793.58" y="1040.19" width="1.29" height="1.29" fill="#505154"/>
<rect x="794.82" y="1040.11" width="1.29" height="1.29" fill="#505154"/>
<rect x="784.90" y="1042.04" width="1.29" height="1.29" fill="#505154"/>
<rect x="786.14" y="1041.95" width="1.29" height="1.29" fill="#505154"/>
<rect x="787.38" y="1041.87" width="1.29" height="1.29" fill="#505154"/>
<rect x="788.62" y="1041.78" width="1.29" height="1.29" fill="#505154"/>
<rect x="791.10" y="1041.61" width="1.29" height="1.29" fill="#505154"/>
<rect x="792.34" y="1041.52" width="1.29" height="1.29" fill="#505154"/>
<rect x="793.58" y="1041.43" width="1.29" height="1.29" fill="#505154"/>
<rect x="794.82" y="1041.35" width="1.29" height="1.29" fill="#505154"/>
<rect x="784.90" y="1043.28" width="1.29" height="1.29" fill="#505154"/>
<rect x="786.14" y="1043.19" width="1.29" height="1.29" fill="#505154"/>
<rect x="787.38" y="1043.11" width="1.29" height="1.29" fill="#505154"/>
<rect x="788.62" y="1043.02" width="1.29" height="1.29" fill="#505154"/>
<rect x="791.10" y="1042.85" width="1.29" height="1.29" fill="#505154"/>
<rect x="792.34" y="1042.76" width="1.29" height="1.29" fill="#505154"/>
<rect x="793.58" y="1042.67" width="1.29" height="1.29" fill="#505154"/>
<rect x="794.82" y="1042.59" width="1.29" height="1.29" fill="#505154"/>
<rect x="786.14" y="1044.43" width="1.29" height="1.29" fill="#505154"/>
<rect x="789.86" y="1044.17" width="1.29" height="1.29" fill="#505154"/>
<rect x="791.10" y="1044.09" width="1.29" height="1.29" fill="#505154"/>
<rect x="792.34" y="1044.00" width="1.29" height="1.29" fill="#505154"/>
<rect x="793.58" y="1043.91" width="1.29" height="1.29" fill="#505154"/>
<rect x="794.82" y="1043.83" width="1.29" height="1.29" fill="#505154"/>
<rect x="786.14" y="1045.67" width="1.29" height="1.29" fill="#505154"/>
<rect x="787.38" y="1045.59" width="1.29" height="1.29" fill="#505154"/>
<rect x="789.86" y="1045.41" width="1.29" height="1.29" fill="#505154"/>
<rect x="791.10" y="1045.33" width="1.29" height="1.29" fill="#505154"/>
<rect x="794.82" y="1045.07" width="1.29" height="1.29" fill="#505154"/>
<rect x="786.14" y="1046.91" width="1.29" height="1.29" fill="#505154"/>
<rect x="789.86" y="1046.65" width="1.29" height="1.29" fill="#505154"/>
<rect x="792.34" y="1046.48" width="1.29" height="1.29" fill="#505154"/>
<rect x="793.58" y="1046.39" width="1.29" height="1.29" fill="#505154"/>
<rect x="784.90" y="1048.24" width="1.29" height="1.29" fill="#505154"/>
<rect x="786.14" y="1048.15" width="1.29" height="1.29" fill="#505154"/>
<rect x="787.38" y="1048.07" width="1.29" height="1.29" fill="#505154"/>
<rect x="793.58" y="1047.63" width="1.29" height="1.29" fill="#505154"/>
<rect x="787.38" y="1049.31" width="1.29" height="1.29" fill="#505154"/>
<rect x="791.10" y="1049.05" width="1.29" height="1.29" fill="#505154"/>
<rect x="793.58" y="1048.87" width="1.29" height="1.29" fill="#505154"/>
<rect x="788.62" y="1050.46" width="1.29" height="1.29" fill="#505154"/>
<rect x="789.86" y="1050.37" width="1.29" height="1.29" fill="#505154"/>
<rect x="792.34" y="1050.20" width="1.29" height="1.29" fill="#505154"/>
<rect x="793.58" y="1050.11" width="1.29" height="1.29" fill="#505154"/>
<rect x="794.82" y="1050.03" width="1.29" height="1.29" fill="#505154"/>
<rect x="784.90" y="1051.96" width="1.29" height="1.29" fill="#505154"/>
<rect x="786.14" y="1051.87" width="1.29" height="1.29" fill="#505154"/>
<rect x="788.62" y="1051.70" width="1.29" height="1.29" fill="#505154"/>
<rect x="789.86" y="1051.61" width="1.29" height="1.29" fill="#505154"/>
<rect x="791.10" y="1051.53" width="1.29" height="1.29" fill="#505154"/>
<rect x="793.58" y="1051.35" width="1.29" height="1.29" fill="#505154"/>
<rect x="794.82" y="1051.27" width="1.29" height="1.29" fill="#505154"/>
<rect x="784.90" y="1053.20" width="1.29" height="1.29" fill="#505154"/>
<rect x="786.14" y="1053.11" width="1.29" height="1.29" fill="#505154"/>
<rect x="787.38" y="1053.03" width="1.29" height="1.29" fill="#505154"/>
<rect x="789.86" y="1052.85" width="1.29" height="1.29" fill="#505154"/>
<rect x="791.10" y="1052.77" width="1.29" height="1.29" fill="#505154"/>
<rect x="792.34" y="1052.68" width="1.29" height="1.29" fill="#505154"/>
<rect x="784.90" y="1054.44" width="1.29" height="1.29" fill="#505154"/>
<rect x="786.14" y="1054.35" width="1.29" height="1.29" fill="#505154"/>
<rect x="787.38" y="1054.27" width="1.29" height="1.29" fill="#505154"/>
<rect x="788.62" y="1054.18" width="1.29" height="1.29" fill="#505154"/>
<rect x="789.86" y="1054.09" width="1.29" height="1.29" fill="#505154"/>
<rect x="792.34" y="1053.92" width="1.29" height="1.29" fill="#505154"/>
<rect x="793.58" y="1053.83" width="1.29" height="1.29" fill="#505154"/>
<rect x="794.82" y="1053.75" width="1.29" height="1.29" fill="#505154"/>
<rect x="784.90" y="1055.68" width="1.29" height="1.29" fill="#505154"/>
<rect x="786.14" y="1055.59" width="1.29" height="1.29" fill="#505154"/>
<rect x="787.38" y="1055.51" width="1.29" height="1.29" fill="#505154"/>
<rect x="789.86" y="1055.33" width="1.29" height="1.29" fill="#505154"/>
<rect x="793.58" y="1055.07" width="1.29" height="1.29" fill="#505154"/>
<rect x="799.0" y="1041.3" width="5.0" height="1.5" fill="#8f9092" transform="rotate(-4.4 799.0 1041.3)"/>
<rect x="799.0" y="1046.6" width="19.5" height="1.5" fill="#8f9092" transform="rotate(-4.4 799.0 1046.6)"/>
<rect x="799.0" y="1054.3" width="8.5" height="1.5" fill="#8f9092" transform="rotate(-4.4 799.0 1054.3)"/>
<text x="782.3" y="1071.6" font-size="6.6" font-weight="bold" fill="#47484b" textLength="38.8" lengthAdjust="spacingAndGlyphs" transform="rotate(-4.6 782.3 1071.6)">UniFi Enterprise</text>
<rect x="782.4" y="1077.6" width="48" height="1.4" fill="#85868a" opacity="0.6" transform="rotate(-5.2 782.4 1077.6)"/>
<rect x="782.4" y="1081.9" width="42" height="1.4" fill="#85868a" opacity="0.6" transform="rotate(-5.2 782.4 1081.9)"/>
<rect x="782.4" y="1086.2" width="43" height="1.4" fill="#85868a" opacity="0.6" transform="rotate(-5.2 782.4 1086.2)"/>
<rect x="782.4" y="1090.5" width="55" height="1.4" fill="#85868a" opacity="0.6" transform="rotate(-5.2 782.4 1090.5)"/>
<g fill="none" stroke="#818285" stroke-width="1.0" transform="rotate(-5.4 782 1100) translate(782 0) scale(0.86 1) translate(-782 0)" opacity="0.85"><path d="M788,1093.6 a5.2,6.2 0 1 0 0,12.4"/><path d="M797,1093.6 a5.2,6.2 0 1 0 0,12.4 M792,1099.8 h4.4"/><path d="M800.5,1094 v5 h3.4 v-5 M806,1094 v6 M808.8,1094 l-2.8,3 l2.8,3 M800.5,1102 h3.6 M800.5,1102 v5 h3.6 M806.4,1102 v5 M806.4,1104.4 h2.8 M809.2,1102 v5"/><path d="M811.6,1094 v13 M811.6,1094 h2.8 M816,1094 v13 M816,1100 h2.4 M819.6,1094 v13"/><path d="M822,1107 l6,-12.6 l6,12.6 Z M825,1104 h6"/><path d="M836.8,1095.6 l6.4,9.6 M843.2,1095.6 l-6.4,9.6 M837.6,1107 h5"/><path d="M846.6,1096 h4.2 v10.6 h-4.2 Z M847.6,1094.6 l3.2,-2.2"/><path d="M853.4,1106.4 l5.0,-11.2 l5.0,11.2 Z"/></g>
</g>
<g id="labels" opacity="0.999">
<text x="16.6" y="89.8" font-size="22.4" text-anchor="start" fill="#545454" font-weight="normal" textLength="170.3" lengthAdjust="spacingAndGlyphs">1.3&#8243; touchscreen</text>
<path d="M102.2,107.1 L102.2,189.0" fill="none" stroke="#8a8a8a" stroke-width="2"/>
<circle cx="102.2" cy="107.1" r="3.1" fill="#8a8a8a"/>
<text x="888.8" y="90.2" font-size="22.4" text-anchor="middle" fill="#545454" font-weight="normal" textLength="109.5" lengthAdjust="spacingAndGlyphs">2.5G RJ45</text>
<text x="888.8" y="117.9" font-size="22.4" text-anchor="middle" fill="#545454" font-weight="normal" textLength="106.8" lengthAdjust="spacingAndGlyphs">WAN port</text>
<path d="M892.9,135.2 L892.9,163.4 L978.9,163.4 L978.9,189.3" fill="none" stroke="#8a8a8a" stroke-width="2"/>
<circle cx="892.9" cy="135.2" r="3.1" fill="#8a8a8a"/>
<text x="1072.0" y="90.2" font-size="22.4" text-anchor="middle" fill="#545454" font-weight="normal" textLength="118.3" lengthAdjust="spacingAndGlyphs">25G SFP28</text>
<text x="1072.0" y="117.9" font-size="22.4" text-anchor="middle" fill="#545454" font-weight="normal" textLength="106.8" lengthAdjust="spacingAndGlyphs">WAN port</text>
<path d="M1071.8,135.2 L1071.8,189.3" fill="none" stroke="#8a8a8a" stroke-width="2"/>
<circle cx="1071.8" cy="135.2" r="3.1" fill="#8a8a8a"/>
<text x="716.8" y="401.6" font-size="22.4" text-anchor="middle" fill="#545454" font-weight="normal" textLength="109.5" lengthAdjust="spacingAndGlyphs">2.5G RJ45</text>
<text x="716.8" y="429.6" font-size="22.4" text-anchor="middle" fill="#545454" font-weight="normal" textLength="44.3" lengthAdjust="spacingAndGlyphs">port</text>
<path d="M730.8,368.9 L730.8,327.1 L978.5,327.1 L978.5,314.6" fill="none" stroke="#8a8a8a" stroke-width="2"/>
<circle cx="730.8" cy="368.9" r="3.1" fill="#8a8a8a"/>
<text x="901.3" y="401.6" font-size="22.4" text-anchor="middle" fill="#545454" font-weight="normal" textLength="135.9" lengthAdjust="spacingAndGlyphs">(2) 10G SFP+</text>
<text x="901.9" y="429.6" font-size="22.4" text-anchor="middle" fill="#545454" font-weight="normal" textLength="54.6" lengthAdjust="spacingAndGlyphs">ports</text>
<path d="M902.6,368.9 L902.6,339.5 L1027.3,339.5 L1027.3,314.6" fill="none" stroke="#8a8a8a" stroke-width="2"/>
<circle cx="902.6" cy="368.9" r="3.1" fill="#8a8a8a"/>
<text x="1071.5" y="401.6" font-size="22.4" text-anchor="middle" fill="#545454" font-weight="normal" textLength="118.3" lengthAdjust="spacingAndGlyphs">25G SFP28</text>
<text x="1072.0" y="429.6" font-size="22.4" text-anchor="middle" fill="#545454" font-weight="normal" textLength="44.3" lengthAdjust="spacingAndGlyphs">port</text>
<path d="M1072.1,368.9 L1072.1,314.6" fill="none" stroke="#8a8a8a" stroke-width="2"/>
<circle cx="1072.1" cy="368.9" r="3.1" fill="#8a8a8a"/>
<text x="1232.6" y="430.0" font-size="22.4" text-anchor="middle" fill="#545454" font-weight="normal" textLength="131.6" lengthAdjust="spacingAndGlyphs">Reset button</text>
<path d="M1107.1,314.6 L1107.1,351.4 L1242.9,351.4 L1242.9,396.2" fill="none" stroke="#8a8a8a" stroke-width="2"/>
<circle cx="1242.9" cy="396.2" r="3.1" fill="#8a8a8a"/>
<text x="914.8" y="489.8" font-size="22.4" text-anchor="middle" fill="#545454" font-weight="normal" textLength="319.5" lengthAdjust="spacingAndGlyphs">(2) Hot-swappable 150W CRPS</text>
<path d="M915.2,507.1 L915.2,550.7" fill="none" stroke="#8a8a8a" stroke-width="2"/>
<circle cx="915.2" cy="507.1" r="3.1" fill="#8a8a8a"/>
<path d="M720.7,589.4 L720.7,550.7 L1108.8,550.7 L1108.8,589.4" fill="none" stroke="#8a8a8a" stroke-width="2"/>
<text x="1054.9" y="829.6" font-size="22.4" text-anchor="middle" fill="#545454" font-weight="normal" textLength="121.6" lengthAdjust="spacingAndGlyphs">Power input</text>
<path d="M1055.1,796.6 L1055.1,716.5" fill="none" stroke="#8a8a8a" stroke-width="2"/>
<circle cx="1055.1" cy="796.6" r="3.1" fill="#8a8a8a"/>
<text x="1196.0" y="829.6" font-size="22.4" text-anchor="middle" fill="#545454" font-weight="normal" textLength="123.0" lengthAdjust="spacingAndGlyphs">Safety latch</text>
<path d="M1202.7,796.6 L1202.7,753.5 L1098.7,753.5 L1098.7,716.5" fill="none" stroke="#8a8a8a" stroke-width="2"/>
<circle cx="1202.7" cy="796.6" r="3.1" fill="#8a8a8a"/>
<text x="354.5" y="1182.6" font-size="22.4" text-anchor="middle" fill="#545454" font-weight="normal" textLength="108.7" lengthAdjust="spacingAndGlyphs">442.4 mm</text>
<text x="961.0" y="1190.6" font-size="22.4" text-anchor="middle" fill="#545454" font-weight="normal" textLength="86.4" lengthAdjust="spacingAndGlyphs">325 mm</text>
<text x="1249.2" y="1043.8" font-size="22.4" text-anchor="middle" fill="#545454" font-weight="normal" textLength="89.5" lengthAdjust="spacingAndGlyphs">43.7 mm</text>
<line x1="62.5" y1="1082.0" x2="62.5" y2="1138.0" stroke="#7e7e7e" stroke-width="1.7"/>
<line x1="62.5" y1="1138.0" x2="286.8" y2="1168.5" stroke="#7e7e7e" stroke-width="1.7" stroke-dasharray="4.4 3.8"/>
<line x1="427.5" y1="1187.1" x2="686.5" y2="1221.0" stroke="#7e7e7e" stroke-width="1.7" stroke-dasharray="4.4 3.8"/>
<line x1="686.5" y1="1162.7" x2="686.5" y2="1221.5" stroke="#7e7e7e" stroke-width="1.7"/>
<line x1="686.5" y1="1221.0" x2="892.0" y2="1191.6" stroke="#7e7e7e" stroke-width="1.7" stroke-dasharray="4.4 3.8"/>
<line x1="1018.0" y1="1173.6" x2="1147.2" y2="1155.3" stroke="#7e7e7e" stroke-width="1.7" stroke-dasharray="4.4 3.8"/>
<line x1="1147.2" y1="1100.2" x2="1147.2" y2="1155.8" stroke="#7e7e7e" stroke-width="1.7"/>
<line x1="1160.1" y1="989.2" x2="1187.8" y2="989.2" stroke="#7e7e7e" stroke-width="1.7"/>
<line x1="1160.1" y1="1080.5" x2="1187.8" y2="1080.5" stroke="#7e7e7e" stroke-width="1.7"/>
<line x1="1187.0" y1="989.2" x2="1187.0" y2="1080.5" stroke="#7e7e7e" stroke-width="1.7" stroke-dasharray="4.4 3.8"/>
</g></svg>
</body></html>
